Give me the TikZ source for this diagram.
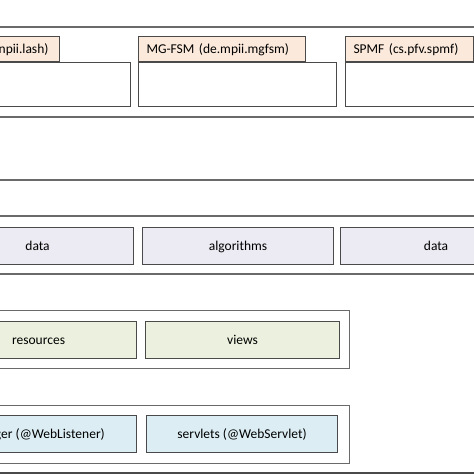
\documentclass[tikz,border=0pt]{standalone}
\usepackage{fontspec}
\setmainfont{Carlito}
\usetikzlibrary{positioning}

\definecolor{rulegray}{HTML}{6A6A6A}
\definecolor{boxgray}{HTML}{4A4A4A}
\definecolor{tabpeach}{HTML}{FBE9DB}
\definecolor{datalav}{HTML}{ECEAF2}
\definecolor{viewgreen}{HTML}{EBF1DE}
\definecolor{webblue}{HTML}{DCEEF4}

\begin{document}
\begin{tikzpicture}[x=1pt,y=-1pt,
  sep/.style={draw=rulegray,line width=1.1pt},
  frame/.style={draw=rulegray,line width=1.1pt,anchor=north west,inner sep=0pt},
  pkgbox/.style={draw=boxgray,line width=1pt,anchor=north west,inner sep=0pt,minimum width=198pt,minimum height=44pt},
  pkgtab/.style={draw=boxgray,fill=tabpeach,line width=1pt,anchor=south west,minimum height=25pt,inner ysep=0pt,inner xsep=8pt,align=left,text height=10pt,text depth=2pt,font=\fontsize{13.5}{16}\selectfont},
  layerbox/.style={draw=boxgray,line width=1.1pt,anchor=north west,minimum height=37pt,inner sep=0pt,text height=10pt,text depth=1pt,font=\fontsize{13.5}{16}\selectfont}
]
\useasboundingbox (0,0) rectangle (474,474);
\clip (0,0) rectangle (474,474);

% layer separators
\foreach \ly in {27,117,180,216,274}
  \draw[sep] (-10,\ly) -- (484,\ly);
\draw[draw=boxgray,line width=3pt] (-10,473) -- (484,473);

% library packages
\node[pkgbox] (lashbox) at (-68,62) {};
\node[pkgtab,text width=105pt,inner xsep=11pt,align=right] (lashtab) at (lashbox.north west) {npii.lash)};
\node[pkgbox] (mgfsmbox) at (138,62) {};
\node[pkgtab,text width=151pt] (mgfsmtab) at (mgfsmbox.north west) {MG-FSM (de.mpii.mgfsm)};
\node[pkgbox] (spmfbox) at (345,62) {};
\node[pkgtab,text width=112pt] (spmftab) at (spmfbox.north west) {SPMF (cs.pfv.spmf)};

% core layer
\node[layerbox,fill=datalav,minimum width=192pt] (datal) at (-59,227) {data};
\node[layerbox,fill=datalav,minimum width=191pt] (algo) at (142,227) {algorithms};
\node[layerbox,fill=datalav,minimum width=191pt] (datar) at (340,227) {data};

% web layer
\node[frame,minimum width=409pt,minimum height=58pt] (webui) at (-60,310) {};
\node[layerbox,fill=viewgreen,minimum width=196pt] (res) at (-60,321) {resources};
\node[layerbox,fill=viewgreen,minimum width=194pt] (views) at (145,321) {views};

\node[frame,minimum width=409pt,minimum height=58pt] (webapp) at (-60,405) {};
\node[layerbox,fill=webblue,minimum width=196pt] (listen) at (-60,415) {};
\node[anchor=base east,inner sep=0pt,font=\fontsize{13.5}{16}\selectfont] (listentxt) at (105,438.5) {ger (@WebListener)};
\node[layerbox,fill=webblue,minimum width=191pt] (servl) at (146,415) {servlets (@WebServlet)};
\end{tikzpicture}
\end{document}
